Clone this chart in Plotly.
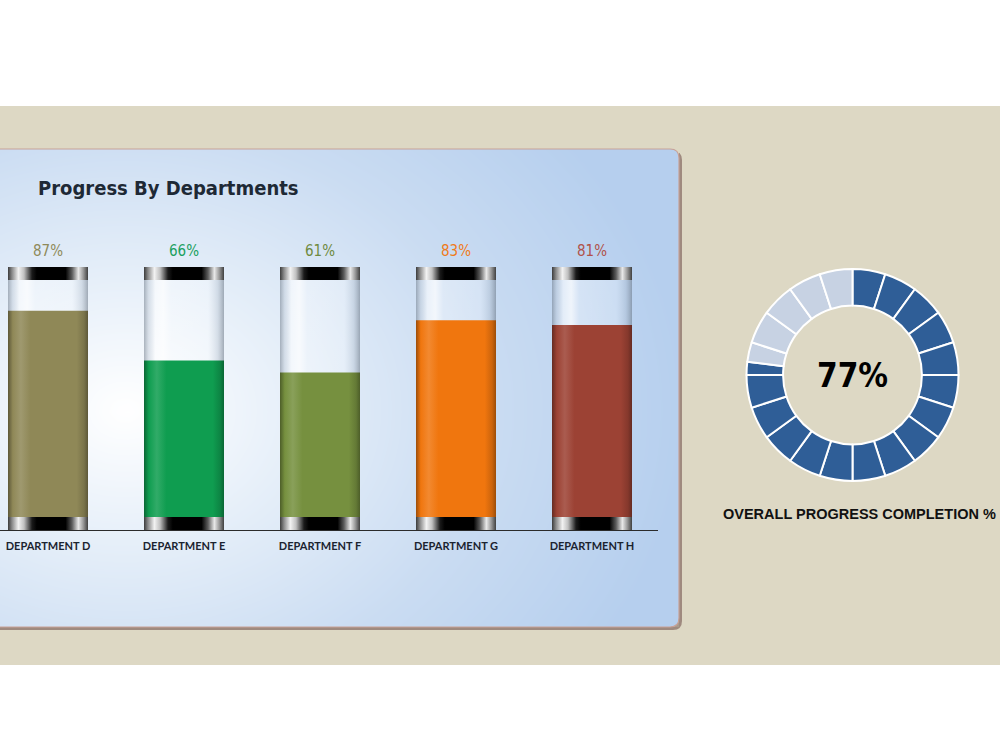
import numpy as np
import plotly.graph_objects as go

# ---------------- data ----------------
departments = ["DEPARTMENT D", "DEPARTMENT E", "DEPARTMENT F", "DEPARTMENT G", "DEPARTMENT H"]
progress = [87, 66, 61, 83, 81]
liquid_colors = ["#8f8857", "#0f9d50", "#76903f", "#f0760e", "#9c4234"]
label_colors = ["#8f8a5a", "#1aa060", "#6f8a40", "#f07a1a", "#b0524a"]
overall = 77
title_text = "Progress By Departments"
overall_label = "OVERALL PROGRESS COMPLETION %"

# ---------------- helpers ----------------
W, H = 1000, 750
COND = "DejaVu Sans Condensed, Liberation Sans Narrow, sans-serif"


def px(x):
    return x / W


def py(y):
    return 1 - y / H


def hex2rgb(h):
    h = h.lstrip("#")
    return tuple(int(h[i:i + 2], 16) for i in (0, 2, 4))


def mix(h, other, t):
    a = hex2rgb(h)
    b = other
    return "rgb(%d,%d,%d)" % tuple(round(a[i] * (1 - t) + b[i] * t) for i in range(3))


HALF = 40 / 136.0  # half width of a cylinder in category units
Y_LO, Y_HI = -5.5, 105.5
PANEL = (0, 149, 679, 627)  # left, top, right, bottom in pixels

fig = go.Figure()

# ---------------- panel background glow (subplot xy, drawn first) ----------------
gx = np.linspace(PANEL[0], PANEL[2], 70)
gy = np.linspace(PANEL[1], PANEL[3], 50)
GX, GY = np.meshgrid(gx, gy)
glow = np.clip(np.sqrt(((GX - 125) / 560.0) ** 2 + ((GY - 410) / 440.0) ** 2), 0, 1)
fig.add_trace(go.Heatmap(
    x=gx, y=gy, z=glow, zmin=0, zmax=1, zsmooth="best", showscale=False, hoverinfo="skip",
    colorscale=[[0, "#ffffff"], [0.3, "#e6eff9"], [0.65, "#cadcf2"], [1, "#b6cfee"]],
    xaxis="x", yaxis="y",
))


def rect_trace(i, y0, y1, colorscale):
    xs = [i - HALF, i + HALF, i + HALF, i - HALF, i - HALF]
    ys = [y0, y0, y1, y1, y0]
    return go.Scatter(
        x=xs, y=ys, mode="none", fill="toself",
        fillgradient=dict(type="horizontal", colorscale=colorscale),
        hoverinfo="skip", showlegend=False, xaxis="x2", yaxis="y2",
    )


cap_scale = [
    [0.0, "#3c3c3c"], [0.05, "#8a8a8a"], [0.13, "#f2f2f2"], [0.2, "#c0c0c0"],
    [0.3, "#1a1a1a"], [0.36, "#000000"], [0.72, "#000000"], [0.8, "#5c5c5c"],
    [0.88, "#e8e8e8"], [0.94, "#9a9a9a"], [1.0, "#404040"],
]
glass_scale = [
    [0.0, "rgba(110,122,136,0.55)"], [0.06, "rgba(190,200,212,0.45)"],
    [0.14, "rgba(255,255,255,0.55)"], [0.24, "rgba(255,255,255,0.75)"],
    [0.34, "rgba(255,255,255,0.35)"], [0.8, "rgba(255,255,255,0.25)"],
    [0.92, "rgba(170,182,196,0.35)"], [1.0, "rgba(100,112,126,0.55)"],
]

for i, (v, c) in enumerate(zip(progress, liquid_colors)):
    fig.add_trace(rect_trace(i, 0, 100, glass_scale))
    liquid_scale = [
        [0.0, mix(c, (0, 0, 0), 0.35)], [0.06, c], [0.16, mix(c, (255, 255, 255), 0.14)],
        [0.28, c], [0.86, c], [0.95, mix(c, (0, 0, 0), 0.15)], [1.0, mix(c, (0, 0, 0), 0.35)],
    ]
    fig.add_trace(rect_trace(i, 0, v, liquid_scale))
    fig.add_trace(rect_trace(i, Y_LO, 0, cap_scale))
    fig.add_trace(rect_trace(i, 100, Y_HI, cap_scale))
    fig.add_annotation(
        x=i, y=Y_HI, xref="x2", yref="y2", text=f"{v}%", showarrow=False,
        yanchor="bottom", yshift=5,
        font=dict(family=COND, size=15, color=label_colors[i]),
    )

# ---------------- donut ----------------
seg_vals, seg_cols = [], []
DARK, LIGHT = "#2f5e97", "#c7d2e3"
for k in range(20):
    lo, hi = 5 * k, 5 * k + 5
    if hi <= overall:
        seg_vals.append(5); seg_cols.append(DARK)
    elif lo >= overall:
        seg_vals.append(5); seg_cols.append(LIGHT)
    else:
        seg_vals += [overall - lo, hi - overall]
        seg_cols += [DARK, LIGHT]

cx, cy, R = 852.5, 375, 106
fig.add_trace(go.Pie(
    values=seg_vals, sort=False, direction="clockwise", rotation=0,
    hole=0.655, textinfo="none", hoverinfo="skip", showlegend=False,
    marker=dict(colors=seg_cols, line=dict(color="#ffffff", width=2)),
    domain=dict(x=[px(cx - R), px(cx + R)], y=[py(cy + R), py(cy - R)]),
))
fig.add_annotation(
    x=px(cx), y=py(cy), xref="paper", yref="paper", text=f"<b>{overall}%</b>",
    showarrow=False, xanchor="center", yanchor="middle",
    font=dict(family=COND, size=33, color="#000000"),
)
fig.add_annotation(
    x=px(721), y=py(514), xref="paper", yref="paper", text=f"<b>{overall_label}</b>",
    showarrow=False, xanchor="left", yanchor="middle",
    font=dict(family="Liberation Sans, Arial, sans-serif", size=14.5, color="#111111"),
)

# title
fig.add_annotation(
    x=px(36), y=py(188), xref="paper", yref="paper", text=f"<b>{title_text}</b>",
    showarrow=False, xanchor="left", yanchor="middle",
    font=dict(family=COND, size=20, color="#1e2935"),
)

# ---------------- shapes ----------------
L, T, Rr, B = PANEL
BEIGE = "#ddd8c4"
shapes = []
shapes.append(dict(type="rect", xref="paper", yref="paper", x0=0, x1=1, y0=py(665), y1=py(106),
                   fillcolor=BEIGE, line=dict(width=0), layer="below"))


def rounded(x0, y0, x1, y1, r):
    X, Y = px, py
    return (f"M {X(x0)},{Y(y0)} L {X(x1 - r)},{Y(y0)} Q {X(x1)},{Y(y0)} {X(x1)},{Y(y0 + r)} "
            f"L {X(x1)},{Y(y1 - r)} Q {X(x1)},{Y(y1)} {X(x1 - r)},{Y(y1)} L {X(x0)},{Y(y1)} Z")


shapes.append(dict(type="path", xref="paper", yref="paper", path=rounded(-20, T + 2, Rr + 3, B + 3, 9),
                   fillcolor="#8a7068", opacity=0.75, line=dict(width=0), layer="below"))
r = 9
shapes.append(dict(type="path", xref="paper", yref="paper",
                   path=f"M {px(Rr)},{py(T)} L {px(Rr)},{py(T + r)} Q {px(Rr)},{py(T)} {px(Rr - r)},{py(T)} Z",
                   fillcolor=BEIGE, line=dict(width=0), layer="above"))
shapes.append(dict(type="path", xref="paper", yref="paper",
                   path=f"M {px(Rr)},{py(B)} L {px(Rr - r)},{py(B)} Q {px(Rr)},{py(B)} {px(Rr)},{py(B - r)} Z",
                   fillcolor="#a89a8c", line=dict(width=0), layer="above"))
shapes.append(dict(type="path", xref="paper", yref="paper", path=rounded(-20, T, Rr, B, r),
                   fillcolor="rgba(0,0,0,0)", line=dict(color="#c7a197", width=1.2), layer="above"))

fig.update_layout(
    width=W, height=H, margin=dict(l=0, r=0, t=0, b=0),
    paper_bgcolor="#ffffff", plot_bgcolor="rgba(0,0,0,0)",
    shapes=shapes, showlegend=False,
    xaxis=dict(domain=[px(L), px(Rr)], range=[L, Rr], visible=False, fixedrange=True),
    yaxis=dict(domain=[py(B), py(T)], range=[B, T], visible=False, fixedrange=True),
    xaxis2=dict(domain=[0, px(658)], range=[-48 / 136.0, (658 - 48) / 136.0], anchor="y2",
                tickmode="array", tickvals=list(range(len(departments))),
                ticktext=[f"<b>{d}</b>" for d in departments],
                tickfont=dict(family="Lato, Liberation Sans, sans-serif", size=11, color="#1b2330"),
                showline=True, linecolor="#2b2b2b", linewidth=1.3, showgrid=False, zeroline=False,
                ticks="", ticklabelstandoff=6, automargin=False, fixedrange=True),
    yaxis2=dict(domain=[py(530), py(267)], range=[Y_LO, Y_HI], anchor="x2", visible=False,
                showgrid=False, zeroline=False, fixedrange=True),
)

fig.write_html("out.html", config={"displayModeBar": False},
               post_script="document.body.style.margin='0px';")
